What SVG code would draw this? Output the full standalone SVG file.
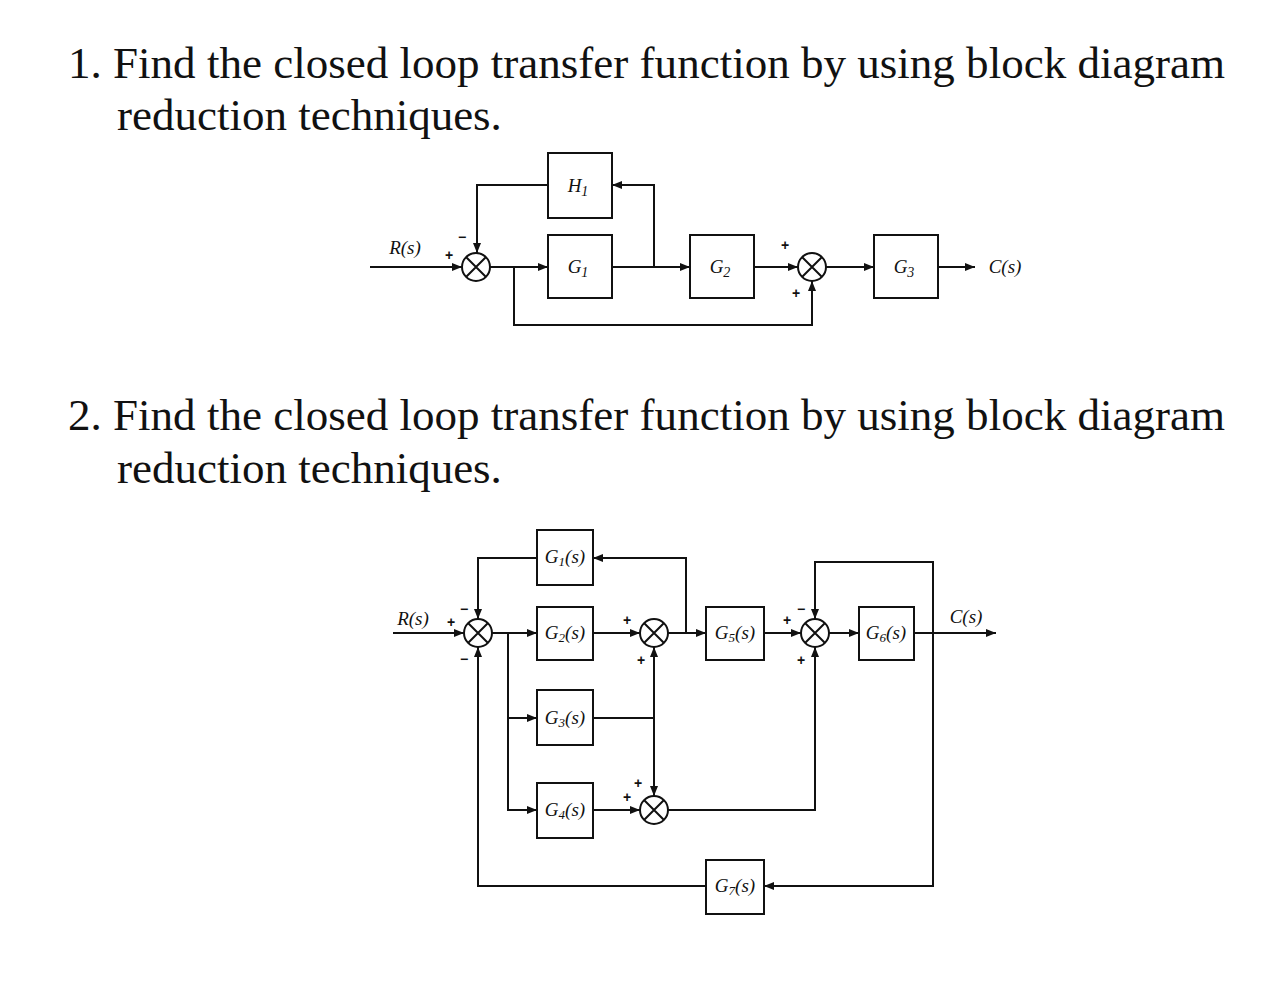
<svg xmlns="http://www.w3.org/2000/svg" width="1286" height="992" viewBox="0 0 1286 992">
<style>
.t{font-family:"Liberation Serif",serif;font-size:45px;fill:#111}
.b{fill:#fff;stroke:#111;stroke-width:2}
.s{fill:#fff;stroke:#111;stroke-width:2}
.l{font-family:"Liberation Serif",serif;font-style:italic;font-size:19px;fill:#111;text-anchor:middle}
.p{font-family:"Liberation Sans",sans-serif;font-weight:bold;font-size:14px;fill:#111;text-anchor:middle}
.c path{fill:none;stroke:#111;stroke-width:2}
</style>
<defs>
<marker id="a" viewBox="0 0 10 8" refX="10" refY="4" markerWidth="11" markerHeight="8" markerUnits="userSpaceOnUse" orient="auto"><path d="M0,0L10,4L0,8z" fill="#111"/></marker>
<g id="sum"><circle r="14" class="s"/><path d="M-10,-10L10,10M10,-10L-10,10" stroke="#111" stroke-width="2"/></g>
</defs>
<text class="t" x="68" y="78" textLength="1157" lengthAdjust="spacingAndGlyphs">1. Find the closed loop transfer function by using block diagram</text>
<text class="t" x="117" y="130">reduction techniques.</text>
<text class="t" x="68" y="430" textLength="1157" lengthAdjust="spacingAndGlyphs">2. Find the closed loop transfer function by using block diagram</text>
<text class="t" x="117" y="483">reduction techniques.</text>

<g class="c">
<path d="M370,267H462" marker-end="url(#a)"/>
<path d="M490,267H548" marker-end="url(#a)"/>
<path d="M612,267H690" marker-end="url(#a)"/>
<path d="M654,267V185H612" marker-end="url(#a)"/>
<path d="M548,185H477V253" marker-end="url(#a)"/>
<path d="M514,267V325H812V281" marker-end="url(#a)"/>
<path d="M754,267H798" marker-end="url(#a)"/>
<path d="M826,267H874" marker-end="url(#a)"/>
<path d="M938,267H975" marker-end="url(#a)"/>

<path d="M393,633H464" marker-end="url(#a)"/>
<path d="M492,633H537" marker-end="url(#a)"/>
<path d="M508,633V810H537" marker-end="url(#a)"/>
<path d="M508,718H537" marker-end="url(#a)"/>
<path d="M593,633H640" marker-end="url(#a)"/>
<path d="M668,633H706" marker-end="url(#a)"/>
<path d="M686,633V558H593" marker-end="url(#a)"/>
<path d="M537,558H478V619" marker-end="url(#a)"/>
<path d="M593,718H654"/>
<path d="M654,718V647" marker-end="url(#a)"/>
<path d="M654,718V796" marker-end="url(#a)"/>
<path d="M593,810H640" marker-end="url(#a)"/>
<path d="M668,810H815V647" marker-end="url(#a)"/>
<path d="M764,633H801" marker-end="url(#a)"/>
<path d="M829,633H859" marker-end="url(#a)"/>
<path d="M914,633H996" marker-end="url(#a)"/>
<path d="M933,633V562H815V619" marker-end="url(#a)"/>
<path d="M933,633V886H764" marker-end="url(#a)"/>
<path d="M706,886H478V647" marker-end="url(#a)"/>
</g>

<g id="d1-sum1"><use href="#sum" x="476" y="267"/></g>
<g id="d1-H1"><rect class="b" x="548" y="153" width="64" height="65"/><text class="l" x="578" y="192">H<tspan font-size="14" dy="4">1</tspan></text></g>
<g id="d1-G1"><rect class="b" x="548" y="235" width="64" height="63"/><text class="l" x="578" y="273">G<tspan font-size="14" dy="4">1</tspan></text></g>
<g id="d1-G2"><rect class="b" x="690" y="235" width="64" height="63"/><text class="l" x="720" y="273">G<tspan font-size="14" dy="4">2</tspan></text></g>
<g id="d1-sum2"><use href="#sum" x="812" y="267"/></g>
<g id="d1-G3"><rect class="b" x="874" y="235" width="64" height="63"/><text class="l" x="904" y="273">G<tspan font-size="14" dy="4">3</tspan></text></g>
<g id="d1-labels">
<text class="l" x="405" y="254" font-size="16">R(s)</text>
<text class="l" x="1005" y="273" font-size="16">C(s)</text>
<text class="p" x="449" y="260">+</text>
<text class="p" x="462" y="242">−</text>
<text class="p" x="785" y="250">+</text>
<text class="p" x="796" y="298">+</text>
</g>

<g id="d2-sum1"><use href="#sum" x="478" y="633"/></g>
<g id="d2-G1"><rect class="b" x="537" y="530" width="56" height="55"/><text class="l" x="565" y="563" font-size="17">G<tspan font-size="13" dy="3">1</tspan><tspan dy="-3">(s)</tspan></text></g>
<g id="d2-G2"><rect class="b" x="537" y="607" width="56" height="53"/><text class="l" x="565" y="639" font-size="17">G<tspan font-size="13" dy="3">2</tspan><tspan dy="-3">(s)</tspan></text></g>
<g id="d2-G3"><rect class="b" x="537" y="690" width="56" height="55"/><text class="l" x="565" y="724" font-size="17">G<tspan font-size="13" dy="3">3</tspan><tspan dy="-3">(s)</tspan></text></g>
<g id="d2-G4"><rect class="b" x="537" y="783" width="56" height="55"/><text class="l" x="565" y="816" font-size="17">G<tspan font-size="13" dy="3">4</tspan><tspan dy="-3">(s)</tspan></text></g>
<g id="d2-sum2"><use href="#sum" x="654" y="633"/></g>
<g id="d2-sum4"><use href="#sum" x="654" y="810"/></g>
<g id="d2-G5"><rect class="b" x="706" y="607" width="58" height="53"/><text class="l" x="735" y="639" font-size="17">G<tspan font-size="13" dy="3">5</tspan><tspan dy="-3">(s)</tspan></text></g>
<g id="d2-sum3"><use href="#sum" x="815" y="633"/></g>
<g id="d2-G6"><rect class="b" x="859" y="607" width="55" height="53"/><text class="l" x="886" y="639" font-size="17">G<tspan font-size="13" dy="3">6</tspan><tspan dy="-3">(s)</tspan></text></g>
<g id="d2-G7"><rect class="b" x="706" y="860" width="58" height="54"/><text class="l" x="735" y="892" font-size="17">G<tspan font-size="13" dy="3">7</tspan><tspan dy="-3">(s)</tspan></text></g>
<g id="d2-labels">
<text class="l" x="413" y="625" font-size="17">R(s)</text>
<text class="l" x="966" y="623" font-size="17">C(s)</text>
<text class="p" x="451" y="627">+</text>
<text class="p" x="464" y="614">−</text>
<text class="p" x="464" y="664">−</text>
<text class="p" x="627" y="625">+</text>
<text class="p" x="641" y="665">+</text>
<text class="p" x="787" y="625">+</text>
<text class="p" x="801" y="614">−</text>
<text class="p" x="801" y="665">+</text>
<text class="p" x="638" y="788">+</text>
<text class="p" x="627" y="802">+</text>
</g>
</svg>
